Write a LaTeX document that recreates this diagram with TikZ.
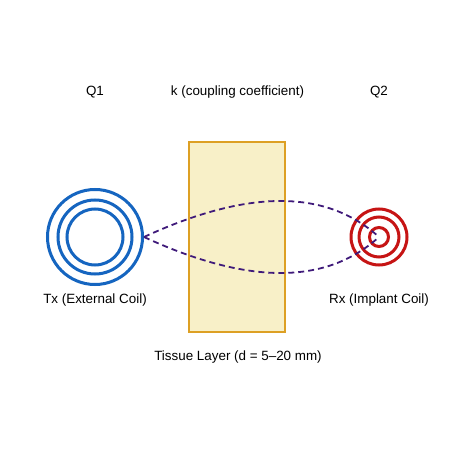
\documentclass[tikz,border=0pt]{standalone}
\usepackage{fontspec}
\setmainfont{Liberation Sans}
\begin{document}
\begin{tikzpicture}[x=1bp,y=-1bp,
  lbl/.style={font=\fontsize{13.4bp}{16bp}\selectfont, text=black, inner sep=0pt, anchor=base},
  txring/.style={circle, draw=txblue, line width=3bp, inner sep=0pt, minimum size=#1},
  rxring/.style={circle, draw=rxred, line width=3bp, inner sep=0pt, minimum size=#1},
  flux/.style={draw=fluxpurple, line width=1.8bp, dash pattern=on 6bp off 4bp}]
\definecolor{txblue}{HTML}{1565C0}
\definecolor{rxred}{HTML}{C61414}
\definecolor{fluxpurple}{HTML}{3F1A7A}
\definecolor{tissuefill}{HTML}{F8F0C8}
\definecolor{tissueedge}{HTML}{DDA024}
\useasboundingbox (0,0) rectangle (474,474);
\fill[white] (0,0) rectangle (474,474);
% tissue layer
\node[draw=tissueedge, fill=tissuefill, line width=1.5bp, minimum width=96bp, minimum height=190bp, inner sep=0pt] (tissue) at (237,237) {};
% Tx coil
\node[txring=95bp] (tx) at (95,237) {};
\node[txring=74bp] (txm) at (95,237) {};
\node[txring=56bp] (txi) at (95,237) {};
% Rx coil
\node[rxring=56bp] (rx) at (379,237) {};
\node[rxring=40bp] (rxm) at (379,237) {};
\node[rxring=19bp] (rxi) at (379,237) {};
% flux lines
\draw[flux] (tx.east) .. controls (248,189) and (326,189) .. (rx.center);
\draw[flux] (tx.east) .. controls (248,285) and (326,285) .. (rx.center);
% labels
\node[lbl] (q1) at (95,95.7) {Q1};
\node[lbl] (k) at (237.5,95.7) {k (coupling coefficient)};
\node[lbl] (q2) at (379,95.7) {Q2};
\node[lbl] (txl) at (95,303.7) {Tx (External Coil)};
\node[lbl] (rxl) at (379,303.7) {Rx (Implant Coil)};
\node[lbl] (tl) at (238,360.3) {Tissue Layer (d = 5–20 mm)};
\end{tikzpicture}
\end{document}
